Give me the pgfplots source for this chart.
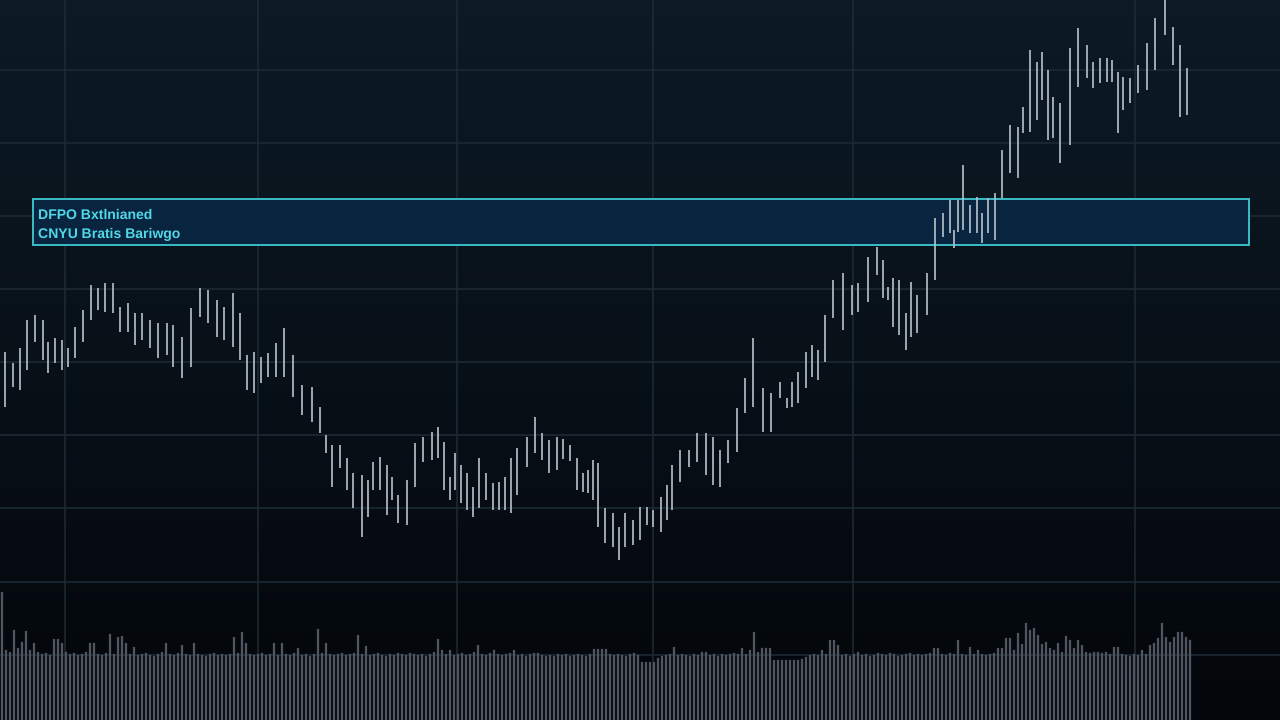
\documentclass[border=0pt]{standalone}
\usepackage{pgfplots}
\pgfplotsset{compat=1.18}
\usepackage{pgfplotstable}
\usepackage{fontspec}
\setmainfont{Liberation Sans}
\definecolor{bgtop}{HTML}{0C1A25}
\definecolor{bgmid}{HTML}{070E17}
\definecolor{bgbot}{HTML}{03060A}
\definecolor{gridcol}{HTML}{1E2C37}
\definecolor{candlecol}{HTML}{B4BEC9}
\definecolor{volcol}{HTML}{4F5660}
\definecolor{boxfill}{HTML}{0A2642}
\definecolor{boxline}{HTML}{3AB8C4}
\definecolor{txtcol}{HTML}{4FD8E8}

\pgfplotstableread{
x t b
5 352 407
13 363 387
20 348 390
27 320 370
35 315 342
43 320 360
48 342 373
55 338 363
62 340 370
68 348 367
75 327 358
83 310 342
91 285 320
98 288 310
105 283 312
113 283 313
120 307 332
128 303 332
135 313 345
142 313 340
150 320 348
158 323 358
167 323 355
173 325 367
182 337 378
191 308 367
200 288 317
208 290 323
217 300 337
224 307 340
233 293 347
240 313 360
247 355 390
254 352 393
261 357 383
268 353 377
276 343 377
284 328 377
293 355 397
302 385 415
312 387 422
320 407 433
326 435 453
332 445 487
340 445 468
347 458 490
353 473 508
362 475 537
368 480 517
373 462 490
380 457 490
387 465 515
392 477 500
398 495 523
407 480 525
415 443 487
423 437 462
432 432 460
438 427 458
444 442 490
450 477 500
455 453 490
461 465 503
467 473 510
473 487 517
479 458 508
486 473 500
493 483 510
499 482 510
505 477 510
511 458 513
517 448 495
527 437 467
535 417 453
542 433 460
549 440 473
557 437 470
563 439 459
570 445 461
577 458 490
583 473 492
588 470 493
593 460 500
598 463 527
605 508 543
613 513 547
619 527 560
625 513 547
633 520 545
640 507 540
647 507 525
653 510 527
661 497 532
667 485 520
672 465 510
680 450 482
689 450 467
697 433 462
706 433 475
713 437 485
720 450 487
728 440 463
737 408 452
745 378 413
753 338 407
763 388 432
771 393 432
780 382 398
787 398 408
792 382 407
798 372 403
806 352 388
812 345 377
818 350 380
825 315 362
833 280 318
843 273 330
852 285 315
858 283 312
868 257 302
877 247 275
883 260 298
888 287 300
893 278 327
899 280 335
906 313 350
911 282 337
917 295 333
927 273 315
935 218 280
943 213 237
950 200 233
954 230 248
958 200 232
963 165 230
970 205 233
977 197 233
982 213 243
988 198 233
995 193 240
1002 150 198
1010 125 173
1018 127 178
1023 107 133
1030 50 132
1037 62 120
1042 52 100
1048 70 140
1053 97 138
1060 103 163
1070 48 145
1078 28 87
1087 45 78
1093 62 88
1100 58 83
1107 58 82
1112 60 82
1118 72 133
1123 77 110
1130 78 103
1138 65 93
1147 43 90
1155 18 70
1165 0 35
1173 27 65
1180 45 117
1187 68 115
}\candles

\pgfplotstableread[header=false]{
128
70
68
90
72
78
89
70
77
68
66
67
65
81
81
77
68
66
67
65
66
68
77
77
66
65
67
86
66
83
84
77
66
73
65
66
67
65
64
66
68
77
66
65
67
75
66
65
77
66
65
64
66
67
65
66
65
66
83
67
88
77
66
65
66
67
65
66
77
65
77
66
65
67
72
65
66
64
66
91
67
77
66
65
66
67
65
66
67
85
66
74
65
66
67
65
64
66
65
67
66
65
67
66
65
66
64
66
68
81
70
66
70
65
66
67
65
66
68
75
66
65
67
70
66
65
66
67
70
65
66
64
66
67
67
65
64
65
64
66
65
66
64
65
66
65
64
66
71
71
71
71
66
65
66
65
64
66
67
65
58
58
58
58
62
64
65
66
73
65
66
65
64
66
65
68
68
65
66
64
66
65
66
67
66
72
66
70
88
68
72
72
72
60
60
60
60
60
60
60
61
63
65
66
65
70
66
80
80
75
65
66
64
66
68
65
66
64
65
67
66
65
67
66
64
65
66
67
65
66
65
66
67
72
72
66
65
67
66
80
66
65
73
66
70
66
65
66
67
72
72
82
82
70
87
76
97
90
92
85
76
78
72
70
77
68
84
80
72
80
75
68
67
68
68
67
68
66
73
73
66
65
64
66
65
70
66
75
77
82
97
83
78
83
88
88
83
80
}\volumes

\begin{document}
\begin{tikzpicture}
\begin{axis}[
  name=ax,
  width=1280pt, height=720pt, scale only axis,
  xmin=0, xmax=1280, ymin=0, ymax=720,
  y dir=reverse,
  axis line style={draw=none},
  tick style={draw=none},
  major tick length=0pt,
  xticklabels={}, yticklabels={},
  xtick={65,258,457,653,853,1135},
  ytick={70,143,216,289,362,435,508,582,655},
  grid=major,
  grid style={draw=gridcol, line width=1.2pt, draw opacity=0.75},
  axis background/.style={shade, top color=bgtop, middle color=bgmid, bottom color=bgbot},
]
\fill[boxfill, fill opacity=0.92] (axis cs:33,199) rectangle (axis cs:1249,245);
\draw[boxline, line width=1.6pt] (axis cs:33,199) rectangle (axis cs:1249,245);
\node[anchor=west, inner sep=0pt, text=txtcol, font=\fontsize{14}{15}\selectfont\bfseries] at (axis cs:38,214.5) {DFPO Bxtlnianed};
\node[anchor=west, inner sep=0pt, text=txtcol, font=\fontsize{14}{15}\selectfont\bfseries] at (axis cs:38,234.5) {CNYU Bratis Bariwgo};
\addplot[draw=none, mark=none,
  error bars/.cd, y dir=plus, y explicit, error mark=none,
  error bar style={draw=candlecol, line width=2.4pt, draw opacity=0.85}]
  table[x=x, y=t, y error expr=\thisrow{b}-\thisrow{t}] {\candles};
\end{axis}
\begin{axis}[
  width=1280pt, height=720pt, scale only axis,
  xmin=0, xmax=1280, ymin=0, ymax=720,
  hide axis, ybar, bar width=2.2pt,
]
\addplot[fill=volcol, draw=none] table[x expr=2+4*\coordindex, y index=0] {\volumes};
\end{axis}
\pgfresetboundingbox
\useasboundingbox (ax.south west) rectangle (ax.north east);
\end{tikzpicture}
\end{document}
